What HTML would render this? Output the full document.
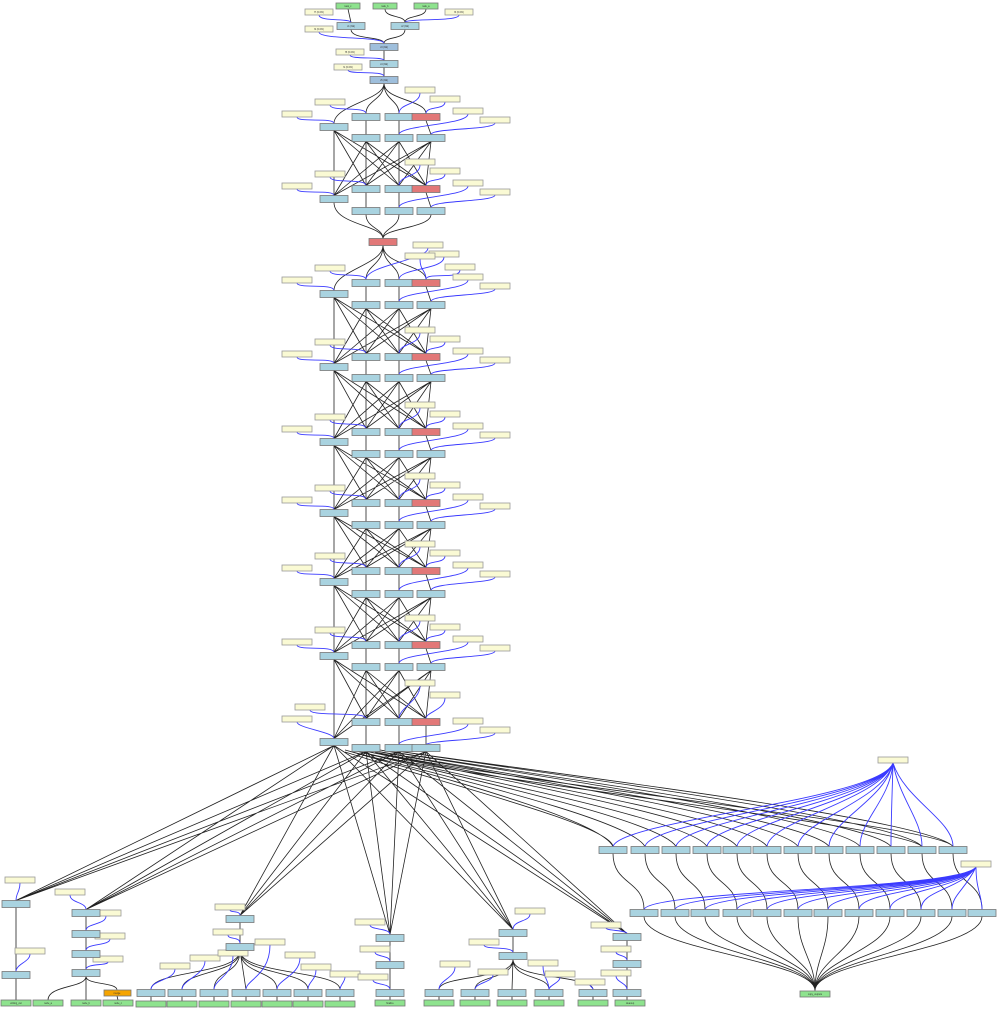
<!DOCTYPE html>
<html><head><meta charset="utf-8"><style>
html,body{margin:0;padding:0;background:#fff;}
svg{display:block;font-family:"Liberation Sans",sans-serif;}
.b{fill:#a9d3e0;stroke:#777;stroke-width:.8}
.y{fill:#fafad4;stroke:#999;stroke-width:.8}
.r{fill:#e27878;stroke:#777;stroke-width:.8}
.g{fill:#8ee38e;stroke:#777;stroke-width:.8}
.o{fill:#f5a400;stroke:#777;stroke-width:.8}
.k{fill:none;stroke:#222;stroke-width:.8}
.u{fill:none;stroke:#3a3aff;stroke-width:.9}
text{font-size:2.4px;fill:#333;text-anchor:middle}
</style></head><body>
<svg width="999" height="1010" viewBox="0 0 999 1010" xmlns="http://www.w3.org/2000/svg">
<!-- black edges -->
<path class="k" d="M348 9L351 22.5M385 9C385 18 405 15 405 22.5M426 9C426 18 405 15 405 22.5M351 29.5C351 40 384 36 384 43.5M405 29.5C405 40 384 36 384 43.5M384 50.5L384 60.5M384 67.5L384 76.5
M384 83.5C384 100 334 105 334 123.5M384 83.5C384 100 366 100 366 113.5M384 83.5C384 100 399 100 399 113.5M384 83.5C384 100 426 100 426 113.5
M366 120.5L366 134.5M399 120.5L399 134.5M426 120.5L431 134.5
M334 130.5L334 195.5M334 130.5L366 185.5M334 130.5L399 185.5M334 130.5L426 185.5M366 141.5L334 195.5M366 141.5L366 185.5M366 141.5L399 185.5M366 141.5L426 185.5M399 141.5L334 195.5M399 141.5L366 185.5M399 141.5L399 185.5M399 141.5L426 185.5M431 141.5L334 195.5M431 141.5L366 185.5M431 141.5L399 185.5M431 141.5L426 185.5
M366 192.5L366 207.5M399 192.5L399 207.5M426 192.5L431 207.5
M334 202.5C334 225 383 225 383 238.5M366 214.5C366 228 383 228 383 238.5M399 214.5C399 228 383 228 383 238.5M431 214.5C431 228 383 228 383 238.5
M383 245.5C383 265 334 270 334 290.5M383 245.5C383 265 366 265 366 279.5M383 245.5C383 265 399 265 399 279.5M383 245.5C383 265 426 265 426 279.5
M366 286.5L366 301.5M399 286.5L399 301.5M426 286.5L431 301.5
M334 297.5L334 363.5M334 297.5L366 353.5M334 297.5L399 353.5M334 297.5L426 353.5M366 308.5L334 363.5M366 308.5L366 353.5M366 308.5L399 353.5M366 308.5L426 353.5M399 308.5L334 363.5M399 308.5L366 353.5M399 308.5L399 353.5M399 308.5L426 353.5M431 308.5L334 363.5M431 308.5L366 353.5M431 308.5L399 353.5M431 308.5L426 353.5
M366 360.5L366 374.5M399 360.5L399 374.5M426 360.5L431 374.5
M334 370.5L334 438.5M334 370.5L366 428.5M334 370.5L399 428.5M334 370.5L426 428.5M366 381.5L334 438.5M366 381.5L366 428.5M366 381.5L399 428.5M366 381.5L426 428.5M399 381.5L334 438.5M399 381.5L366 428.5M399 381.5L399 428.5M399 381.5L426 428.5M431 381.5L334 438.5M431 381.5L366 428.5M431 381.5L399 428.5M431 381.5L426 428.5
M366 435.5L366 450.5M399 435.5L399 450.5M426 435.5L431 450.5
M334 445.5L334 509.5M334 445.5L366 499.5M334 445.5L399 499.5M334 445.5L426 499.5M366 457.5L334 509.5M366 457.5L366 499.5M366 457.5L399 499.5M366 457.5L426 499.5M399 457.5L334 509.5M399 457.5L366 499.5M399 457.5L399 499.5M399 457.5L426 499.5M431 457.5L334 509.5M431 457.5L366 499.5M431 457.5L399 499.5M431 457.5L426 499.5
M366 506.5L366 521.5M399 506.5L399 521.5M426 506.5L431 521.5
M334 516.5L334 578.5M334 516.5L366 567.5M334 516.5L399 567.5M334 516.5L426 567.5M366 528.5L334 578.5M366 528.5L366 567.5M366 528.5L399 567.5M366 528.5L426 567.5M399 528.5L334 578.5M399 528.5L366 567.5M399 528.5L399 567.5M399 528.5L426 567.5M431 528.5L334 578.5M431 528.5L366 567.5M431 528.5L399 567.5M431 528.5L426 567.5
M366 574.5L366 590.5M399 574.5L399 590.5M426 574.5L431 590.5
M334 585.5L334 652.5M334 585.5L366 641.5M334 585.5L399 641.5M334 585.5L426 641.5M366 597.5L334 652.5M366 597.5L366 641.5M366 597.5L399 641.5M366 597.5L426 641.5M399 597.5L334 652.5M399 597.5L366 641.5M399 597.5L399 641.5M399 597.5L426 641.5M431 597.5L334 652.5M431 597.5L366 641.5M431 597.5L399 641.5M431 597.5L426 641.5
M366 648.5L366 663.5M399 648.5L399 663.5M426 648.5L431 663.5
M334 659.5L334 738.5M334 659.5L366 718.5M334 659.5L399 718.5M334 659.5L426 718.5M366 670.5L334 738.5M366 670.5L366 718.5M366 670.5L399 718.5M366 670.5L426 718.5M399 670.5L334 738.5M399 670.5L366 718.5M399 670.5L399 718.5M399 670.5L426 718.5M431 670.5L334 738.5M431 670.5L366 718.5M431 670.5L399 718.5M431 670.5L426 718.5
M366 725.5L366 744.5M399 725.5L399 744.5M426 725.5L426 744.5
M334 745.5L16 900.5M334 745.5L86 909.5M334 745.5L240 915.5M334 745.5L390 934.5M334 745.5L513 929.5M334 745.5L627 933.5
M366 751.5L16 900.5M366 751.5L86 909.5M366 751.5L240 915.5M366 751.5L390 934.5M366 751.5L513 929.5M366 751.5L627 933.5
M399 751.5L16 900.5M399 751.5L86 909.5M399 751.5L240 915.5M399 751.5L390 934.5M399 751.5L513 929.5M399 751.5L627 933.5
M426 751.5L16 900.5M426 751.5L86 909.5M426 751.5L240 915.5M426 751.5L390 934.5M426 751.5L513 929.5M426 751.5L627 933.5
M345 750C450 780 600 820 613 846.5M345 750C460 780 630 820 645 846.5M352 750C470 780 660 820 676 846.5M352 750C480 780 690 820 707 846.5M360 750C500 780 720 820 737 846.5M360 750C510 780 750 820 767 846.5M370 750C530 780 780 820 798 846.5M370 750C540 780 810 820 829 846.5M380 750C560 780 840 820 860 846.5M380 750C570 780 870 820 891 846.5M390 750C590 780 900 820 922 846.5M390 750C600 780 930 820 953 846.5
M345 752C450 785 610 825 613 846.5M360 752C500 785 900 825 922 846.5M375 752C520 785 940 825 953 846.5
M613 853.5C613 885 644 880 644 909.5M645 853.5C645 885 675 880 675 909.5M676 853.5C676 885 705 880 705 909.5M707 853.5C707 885 737 880 737 909.5M737 853.5C737 885 767 880 767 909.5M767 853.5C767 885 798 880 798 909.5M798 853.5C798 885 828 880 828 909.5M829 853.5C829 885 859 880 859 909.5M860 853.5C860 885 890 880 890 909.5M891 853.5C891 885 921 880 921 909.5M922 853.5C922 885 952 880 952 909.5M953 853.5C953 885 982 880 982 909.5
M644 916.5C644 950 815 960 815 990.5M675 916.5C675 950 815 960 815 990.5M705 916.5C705 950 815 960 815 990.5M737 916.5C737 950 815 960 815 990.5M767 916.5C767 950 815 960 815 990.5M798 916.5C798 950 815 960 815 990.5M828 916.5C828 950 815 960 815 990.5M859 916.5C859 950 815 960 815 990.5M890 916.5C890 950 815 960 815 990.5M921 916.5C921 950 815 960 815 990.5M952 916.5C952 950 815 960 815 990.5M982 916.5C982 950 815 960 815 990.5
M16 907.5L16 971.5M16 978.5L16 1000
M86 916.5L86 930.5M86 937.5L86 950.5M86 957.5L86 969.5M86 976.5C86 988 48 985 48 1000M86 976.5L86 1000M86 976.5C86 985 117 982 117 990M117 996L118 1000
M240 922.5L240 943.5M240 950.5C240 975 151 970 151 989.5M240 950.5C240 975 182 970 182 989.5M240 950.5C240 975 214 970 214 989.5M240 950.5L246 989.5M240 950.5C240 975 277 970 277 989.5M240 950.5C240 975 308 970 308 989.5M240 950.5C240 975 340 970 340 989.5
M151 996.5L151 1001M182 996.5L182 1001M214 996.5L214 1001M246 996.5L246 1001M277 996.5L277 1001M308 996.5L308 1001M340 996.5L340 1001
M390 941.5L390 961.5M390 968.5L390 989.5M390 996.5L390 1000
M513 936.5L513 952.5M513 959.5C513 980 439 975 439 989.5M513 959.5C513 980 475 975 475 989.5M513 959.5L512 989.5M513 959.5C513 980 549 975 549 989.5M513 959.5C513 980 593 975 593 989.5
M439 996.5L439 1000M475 996.5L475 1000M512 996.5L512 1000M549 996.5L549 1000M593 996.5L593 1000
M627 940.5L627 960.5M627 967.5L627 989.5M627 996.5L627 1000"/>
<!-- blue edges -->
<path class="u" d="M319 15C319 22 351 18 351 22.5M459 15C459 22 405 18 405 22.5M319 32C319 40 384 36 384 43.5M350 55C350 60 384 56 384 60.5M348 70C348 75 384 70 384 76.5
M330 105C330 112 366 106 366 113.5M297 117C297 123 334 117 334 123.5M420 93C420 105 399 103 399 113.5M445 102C445 110 426 106 426 113.5M468 114C468 125 399 125 399 134.5M495 123C495 130 431 128 431 134.5
M330 177C330 184 366 178 366 185.5M297 189C297 195 334 189 334 195.5M420 165C420 177 399 175 399 185.5M445 174C445 182 426 178 426 185.5M468 186C468 197 399 197 399 207.5M495 195C495 202 431 200 431 207.5
M428 248C428 260 366 265 366 279.5M444 257C444 270 399 268 399 279.5
M330 271C330 278 366 272 366 279.5M297 283C297 289 334 283 334 290.5M420 259C420 271 426 270 426 279.5M460 270C460 280 426 272 426 279.5M468 280C468 291 399 291 399 301.5M495 289C495 296 431 294 431 301.5
M330 345C330 352 366 346 366 353.5M297 357C297 363 334 357 334 363.5M420 333C420 345 399 343 399 353.5M445 342C445 350 426 346 426 353.5M468 354C468 365 399 365 399 374.5M495 363C495 370 431 368 431 374.5
M330 420C330 427 366 421 366 428.5M297 432C297 438 334 432 334 438.5M420 408C420 420 399 418 399 428.5M445 417C445 425 426 421 426 428.5M468 429C468 440 399 440 399 450.5M495 438C495 445 431 443 431 450.5
M330 491C330 498 366 492 366 499.5M297 503C297 509 334 503 334 509.5M420 479C420 491 399 489 399 499.5M445 488C445 496 426 492 426 499.5M468 500C468 511 399 511 399 521.5M495 509C495 516 431 514 431 521.5
M330 559C330 566 366 560 366 567.5M297 571C297 577 334 571 334 578.5M420 547C420 559 399 557 399 567.5M445 556C445 564 426 560 426 567.5M468 568C468 579 399 579 399 590.5M495 577C495 584 431 582 431 590.5
M330 633C330 640 366 634 366 641.5M297 645C297 651 334 645 334 652.5M420 621C420 633 399 631 399 641.5M445 630C445 638 426 634 426 641.5M468 642C468 653 399 653 399 663.5M495 651C495 658 431 656 431 663.5
M310 710C310 717 366 711 366 718.5M297 722C297 728 334 732 334 738.5M420 686C420 700 399 708 399 718.5M445 698C445 710 426 712 426 718.5M468 724C468 735 399 736 399 744.5M495 733C495 740 431 740 426 744.5
M893 763C880 800 620 820 613 846.5M893 763C880 800 650 820 645 846.5M893 763C880 800 680 820 676 846.5M893 763C880 800 710 820 707 846.5M893 763C880 800 740 820 737 846.5M893 763C880 800 770 820 767 846.5M893 763C885 800 800 820 798 846.5M893 763C885 800 830 820 829 846.5M893 763C890 800 860 820 860 846.5M893 763C892 800 891 820 891 846.5M893 763C900 800 922 820 922 846.5M893 763C905 800 953 820 953 846.5
M976 867C960 890 650 890 644 909.5M976 867C960 890 680 890 675 909.5M976 867C960 890 710 890 705 909.5M976 867C960 890 740 890 737 909.5M976 867C960 890 770 890 767 909.5M976 867C960 890 800 890 798 909.5M976 867C960 890 830 890 828 909.5M976 867C960 890 860 890 859 909.5M976 867C960 890 890 890 890 909.5M976 867C960 890 921 890 921 909.5M976 867C965 890 952 895 952 909.5M976 867C976 890 982 895 982 909.5
M20 883C20 892 16 893 16 900.5M30 954C30 962 16 964 16 971.5M70 895C70 903 86 902 86 909.5M106 916C106 925 86 923 86 930.5M110 939C110 946 86 943 86 950.5M108 962C108 966 86 963 86 969.5
M230 910C230 913 240 910 240 915.5M228 935C228 940 240 936 240 943.5M175 969C175 980 151 980 151 989.5M205 961C205 975 182 980 182 989.5M233 956C233 975 214 980 214 989.5M270 945C270 975 246 980 246 989.5M300 958C300 975 277 980 277 989.5M316 970C316 980 308 982 308 989.5M345 977C345 982 340 985 340 989.5
M370 925C370 930 390 928 390 934.5M375 952C375 957 390 955 390 961.5M373 980C373 985 390 983 390 989.5
M530 914C530 922 513 920 513 929.5M484 945C484 950 513 946 513 952.5M455 967C455 978 439 980 439 989.5M493 975C493 982 475 983 475 989.5M543 966C543 978 549 980 549 989.5M560 977C560 983 549 985 549 989.5M590 985C590 987 593 987 593 989.5
M606 928C606 931 627 930 627 933.5M616 952C616 956 627 955 627 960.5M616 976C616 982 627 983 627 989.5"/>
<!-- top nodes -->
<g>
<rect class="g" x="336" y="3" width="24" height="6"/><text x="348" y="6.8">task_c</text>
<rect class="g" x="373" y="3" width="24" height="6"/><text x="385" y="6.8">task_b</text>
<rect class="g" x="414" y="3" width="24" height="6"/><text x="426" y="6.8">task_a</text>
<rect class="y" x="305" y="9" width="28" height="6"/><text x="319" y="12.8">f7 (0.0%)</text>
<rect class="y" x="445" y="9" width="28" height="6"/><text x="459" y="12.8">f3 (0.0%)</text>
<rect class="y" x="305" y="26" width="28" height="6"/><text x="319" y="29.8">f2 (0.0%)</text>
<rect class="y" x="336" y="49" width="28" height="6"/><text x="350" y="52.8">f5 (0.0%)</text>
<rect class="y" x="334" y="64" width="28" height="6"/><text x="348" y="67.8">f1 (0.0%)</text>
<rect class="b" x="337" y="22.5" width="28" height="7"/><text x="351" y="26.8">c1 (blk)</text>
<rect class="b" x="391" y="22.5" width="28" height="7"/><text x="405" y="26.8">c2 (blk)</text>
<rect class="b" x="370" y="43.5" width="28" height="7" style="fill:#9fbfdc"/><text x="384" y="47.8">c3 (blk)</text>
<rect class="b" x="370" y="60.5" width="28" height="7"/><text x="384" y="64.8">c4 (blk)</text>
<rect class="b" x="370" y="76.5" width="28" height="7" style="fill:#9fbfdc"/><text x="384" y="80.8">c5 (blk)</text>
</g>
<!-- block template: A at yA, L at yL, B at yB -->
<defs>
<g id="yl">
<rect class="y" x="-15" y="-3" width="30" height="6"/>
</g>
</defs>
<!-- yellow labels main -->
<g>
<use href="#yl" x="330" y="102"/><use href="#yl" x="297" y="114"/><use href="#yl" x="420" y="90"/><use href="#yl" x="445" y="99"/><use href="#yl" x="468" y="111"/><use href="#yl" x="495" y="120"/>
<use href="#yl" x="330" y="174"/><use href="#yl" x="297" y="186"/><use href="#yl" x="420" y="162"/><use href="#yl" x="445" y="171"/><use href="#yl" x="468" y="183"/><use href="#yl" x="495" y="192"/>
<use href="#yl" x="428" y="245"/><use href="#yl" x="444" y="254"/>
<use href="#yl" x="330" y="268"/><use href="#yl" x="297" y="280"/><use href="#yl" x="420" y="256"/><use href="#yl" x="460" y="267"/><use href="#yl" x="468" y="277"/><use href="#yl" x="495" y="286"/>
<use href="#yl" x="330" y="342"/><use href="#yl" x="297" y="354"/><use href="#yl" x="420" y="330"/><use href="#yl" x="445" y="339"/><use href="#yl" x="468" y="351"/><use href="#yl" x="495" y="360"/>
<use href="#yl" x="330" y="417"/><use href="#yl" x="297" y="429"/><use href="#yl" x="420" y="405"/><use href="#yl" x="445" y="414"/><use href="#yl" x="468" y="426"/><use href="#yl" x="495" y="435"/>
<use href="#yl" x="330" y="488"/><use href="#yl" x="297" y="500"/><use href="#yl" x="420" y="476"/><use href="#yl" x="445" y="485"/><use href="#yl" x="468" y="497"/><use href="#yl" x="495" y="506"/>
<use href="#yl" x="330" y="556"/><use href="#yl" x="297" y="568"/><use href="#yl" x="420" y="544"/><use href="#yl" x="445" y="553"/><use href="#yl" x="468" y="565"/><use href="#yl" x="495" y="574"/>
<use href="#yl" x="330" y="630"/><use href="#yl" x="297" y="642"/><use href="#yl" x="420" y="618"/><use href="#yl" x="445" y="627"/><use href="#yl" x="468" y="639"/><use href="#yl" x="495" y="648"/>
<use href="#yl" x="310" y="707"/><use href="#yl" x="297" y="719"/><use href="#yl" x="420" y="683"/><use href="#yl" x="445" y="695"/><use href="#yl" x="468" y="721"/><use href="#yl" x="495" y="730"/>
<use href="#yl" x="893" y="760"/><use href="#yl" x="976" y="864"/>
<use href="#yl" x="20" y="880"/><use href="#yl" x="30" y="951"/><use href="#yl" x="70" y="892"/><use href="#yl" x="106" y="913"/><use href="#yl" x="110" y="936"/><use href="#yl" x="108" y="959"/>
<use href="#yl" x="230" y="907"/><use href="#yl" x="228" y="932"/><use href="#yl" x="175" y="966"/><use href="#yl" x="205" y="958"/><use href="#yl" x="233" y="953"/><use href="#yl" x="270" y="942"/><use href="#yl" x="300" y="955"/><use href="#yl" x="316" y="967"/><use href="#yl" x="345" y="974"/>
<use href="#yl" x="370" y="922"/><use href="#yl" x="375" y="949"/><use href="#yl" x="373" y="977"/>
<use href="#yl" x="530" y="911"/><use href="#yl" x="484" y="942"/><use href="#yl" x="455" y="964"/><use href="#yl" x="493" y="972"/><use href="#yl" x="543" y="963"/><use href="#yl" x="560" y="974"/><use href="#yl" x="590" y="982"/>
<use href="#yl" x="606" y="925"/><use href="#yl" x="616" y="949"/><use href="#yl" x="616" y="973"/>
</g>
<defs>
<g id="bn"><rect class="b" x="-14" y="-3.5" width="28" height="7"/></g>
<g id="rn"><rect class="r" x="-14" y="-3.5" width="28" height="7"/></g>
<g id="gn"><rect class="g" x="-15" y="-3" width="30" height="6"/></g>
</defs>
<!-- mesh nodes -->
<g>
<use href="#bn" x="366" y="117"/><use href="#bn" x="399" y="117"/><use href="#rn" x="426" y="117"/><use href="#bn" x="334" y="127"/><use href="#bn" x="366" y="138"/><use href="#bn" x="399" y="138"/><use href="#bn" x="431" y="138"/>
<use href="#bn" x="366" y="189"/><use href="#bn" x="399" y="189"/><use href="#rn" x="426" y="189"/><use href="#bn" x="334" y="199"/><use href="#bn" x="366" y="211"/><use href="#bn" x="399" y="211"/><use href="#bn" x="431" y="211"/>
<use href="#rn" x="383" y="242"/>
<use href="#bn" x="366" y="283"/><use href="#bn" x="399" y="283"/><use href="#rn" x="426" y="283"/><use href="#bn" x="334" y="294"/><use href="#bn" x="366" y="305"/><use href="#bn" x="399" y="305"/><use href="#bn" x="431" y="305"/>
<use href="#bn" x="366" y="357"/><use href="#bn" x="399" y="357"/><use href="#rn" x="426" y="357"/><use href="#bn" x="334" y="367"/><use href="#bn" x="366" y="378"/><use href="#bn" x="399" y="378"/><use href="#bn" x="431" y="378"/>
<use href="#bn" x="366" y="432"/><use href="#bn" x="399" y="432"/><use href="#rn" x="426" y="432"/><use href="#bn" x="334" y="442"/><use href="#bn" x="366" y="454"/><use href="#bn" x="399" y="454"/><use href="#bn" x="431" y="454"/>
<use href="#bn" x="366" y="503"/><use href="#bn" x="399" y="503"/><use href="#rn" x="426" y="503"/><use href="#bn" x="334" y="513"/><use href="#bn" x="366" y="525"/><use href="#bn" x="399" y="525"/><use href="#bn" x="431" y="525"/>
<use href="#bn" x="366" y="571"/><use href="#bn" x="399" y="571"/><use href="#rn" x="426" y="571"/><use href="#bn" x="334" y="582"/><use href="#bn" x="366" y="594"/><use href="#bn" x="399" y="594"/><use href="#bn" x="431" y="594"/>
<use href="#bn" x="366" y="645"/><use href="#bn" x="399" y="645"/><use href="#rn" x="426" y="645"/><use href="#bn" x="334" y="656"/><use href="#bn" x="366" y="667"/><use href="#bn" x="399" y="667"/><use href="#bn" x="431" y="667"/>
<use href="#bn" x="366" y="722"/><use href="#bn" x="399" y="722"/><use href="#rn" x="426" y="722"/><use href="#bn" x="334" y="742"/><use href="#bn" x="366" y="748"/><use href="#bn" x="399" y="748"/><use href="#bn" x="426" y="748"/>
</g>
<!-- right cluster -->
<g>
<use href="#bn" x="613" y="850"/><use href="#bn" x="645" y="850"/><use href="#bn" x="676" y="850"/><use href="#bn" x="707" y="850"/><use href="#bn" x="737" y="850"/><use href="#bn" x="767" y="850"/><use href="#bn" x="798" y="850"/><use href="#bn" x="829" y="850"/><use href="#bn" x="860" y="850"/><use href="#bn" x="891" y="850"/><use href="#bn" x="922" y="850"/><use href="#bn" x="953" y="850"/>
<use href="#bn" x="644" y="913"/><use href="#bn" x="675" y="913"/><use href="#bn" x="705" y="913"/><use href="#bn" x="737" y="913"/><use href="#bn" x="767" y="913"/><use href="#bn" x="798" y="913"/><use href="#bn" x="828" y="913"/><use href="#bn" x="859" y="913"/><use href="#bn" x="890" y="913"/><use href="#bn" x="921" y="913"/><use href="#bn" x="952" y="913"/><use href="#bn" x="982" y="913"/>
<use href="#gn" x="815" y="994"/>
</g>
<!-- bottom left clusters -->
<g>
<use href="#bn" x="16" y="904"/><use href="#bn" x="16" y="975"/><use href="#gn" x="16" y="1003"/>
<use href="#bn" x="86" y="913"/><use href="#bn" x="86" y="934"/><use href="#bn" x="86" y="954"/><use href="#bn" x="86" y="973"/>
<use href="#gn" x="48" y="1003"/><use href="#gn" x="86" y="1003"/><use href="#gn" x="118" y="1003"/>
<rect class="o" x="104" y="990" width="27" height="6"/>
<use href="#bn" x="240" y="919"/><use href="#bn" x="240" y="947"/>
<use href="#bn" x="151" y="993"/><use href="#bn" x="182" y="993"/><use href="#bn" x="214" y="993"/><use href="#bn" x="246" y="993"/><use href="#bn" x="277" y="993"/><use href="#bn" x="308" y="993"/><use href="#bn" x="340" y="993"/>
<use href="#gn" x="151" y="1004"/><use href="#gn" x="182" y="1004"/><use href="#gn" x="214" y="1004"/><use href="#gn" x="246" y="1004"/><use href="#gn" x="277" y="1004"/><use href="#gn" x="308" y="1004"/><use href="#gn" x="340" y="1004"/>
<use href="#bn" x="390" y="938"/><use href="#bn" x="390" y="965"/><use href="#bn" x="390" y="993"/><use href="#gn" x="390" y="1003"/>
<use href="#bn" x="513" y="933"/><use href="#bn" x="513" y="956"/>
<use href="#bn" x="439" y="993"/><use href="#bn" x="475" y="993"/><use href="#bn" x="512" y="993"/><use href="#bn" x="549" y="993"/><use href="#bn" x="593" y="993"/>
<use href="#gn" x="439" y="1003"/><use href="#gn" x="475" y="1003"/><use href="#gn" x="512" y="1003"/><use href="#gn" x="549" y="1003"/><use href="#gn" x="593" y="1003"/>
<use href="#bn" x="627" y="937"/><use href="#bn" x="627" y="964"/><use href="#bn" x="627" y="993"/><use href="#gn" x="630" y="1003"/>
</g>
<g>
<text x="16" y="1004">writing_out</text><text x="48" y="1004">node_a</text><text x="86" y="1004">node_b</text><text x="118" y="1004">node_c</text><text x="117" y="994">merge</text>
<text x="815" y="995">copy_outputs</text><text x="390" y="1004">finalize</text><text x="630" y="1004">cleanup</text>
</g>
</svg>
</body></html>
